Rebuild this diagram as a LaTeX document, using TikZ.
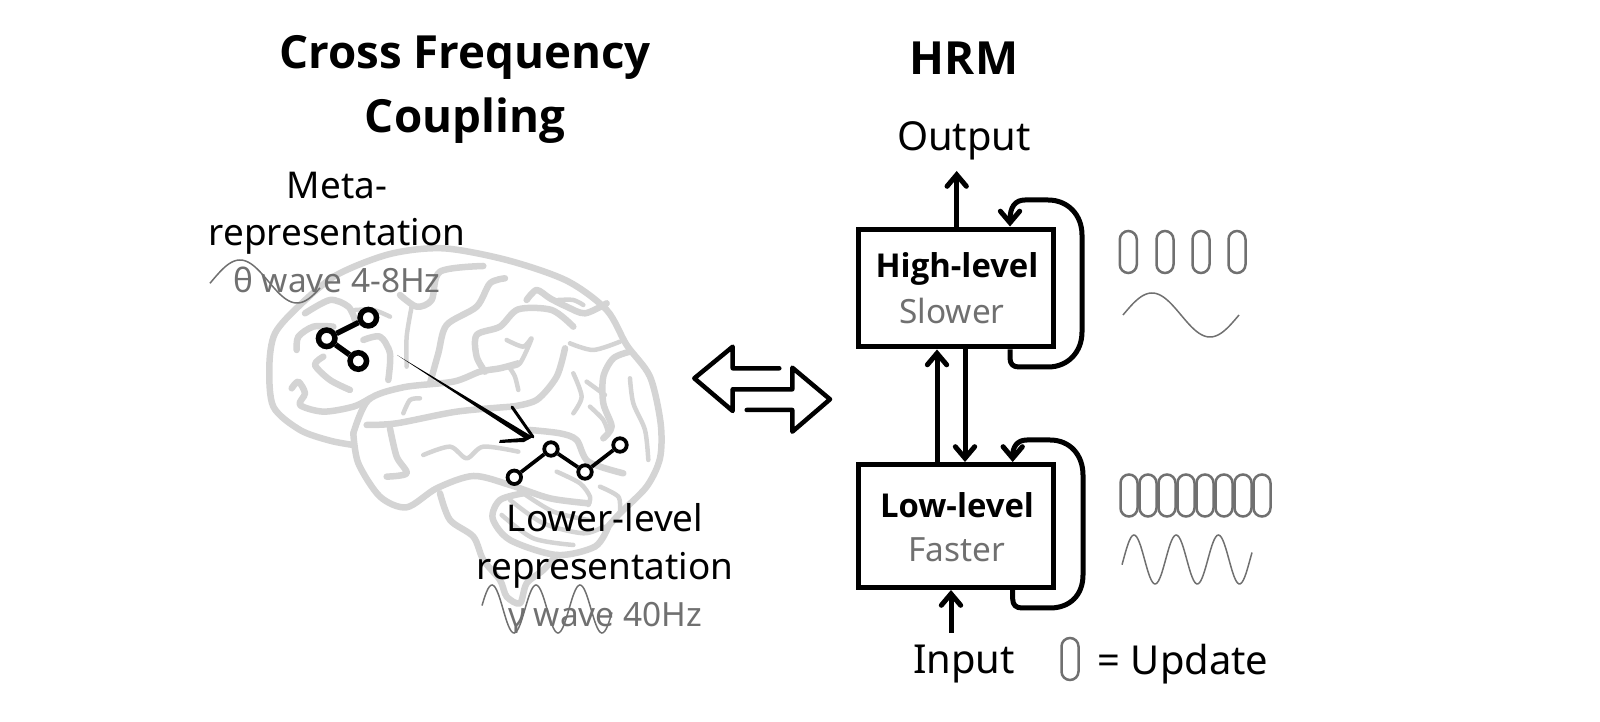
\documentclass[tikz,border=0pt]{standalone}
\usepackage{fontspec}
\setmainfont{Noto Sans}
\newfontfamily\headfont{Open Sans}
\usepackage{tikz}
\usetikzlibrary{positioning,arrows.meta,calc}
\definecolor{brainGray}{HTML}{D4D4D4}
\definecolor{waveGray}{HTML}{707070}
\tikzset{
    titletext/.style={font=\fontsize{26}{36.4}\selectfont\headfont\bfseries,align=center,inner sep=0pt},
    labeltext/.style={font=\fontsize{21}{27}\selectfont,align=center,inner sep=0pt},
    iotext/.style={font=\fontsize{22.7}{27}\selectfont,inner sep=0pt},
    wavetext/.style={font=\fontsize{19}{23}\selectfont,text=waveGray,inner sep=0pt},
    boxhead/.style={font=\fontsize{18.7}{23}\selectfont\headfont\bfseries,inner sep=0pt},
    boxsub/.style={font=\fontsize{19}{23}\selectfont,text=waveGray,inner sep=0pt},
    levelbox/.style={draw,line width=0.1cm,minimum width=3.92cm},
    flowarrow/.style={line width=0.1cm,line join=round,-{Straight Barb[length=6.5pt,width=11pt,line cap=round]}},
    selfloop/.style={flowarrow},
    updatepill/.style={draw=waveGray,line width=0.05cm,rounded corners=0.17cm,minimum width=0.34cm,minimum height=0.84cm,inner sep=0pt},
    wavecurve/.style={draw=waveGray,line width=0.03cm,smooth,samples=90},
    brainline/.style={draw=brainGray,line width=0.13cm,line cap=round,line join=round},
    brainthin/.style={draw=brainGray,line width=0.09cm,line cap=round,line join=round},
    metadot/.style={draw,circle,line width=0.11cm,minimum size=0.33cm,inner sep=0pt},
    lowdot/.style={draw,circle,line width=0.075cm,minimum size=0.27cm,inner sep=0pt},
}
\begin{document}
\begin{tikzpicture}[x=0.02cm,y=-0.02cm]
    \useasboundingbox (0,0) rectangle (1600,722);
    % brain, traced in the 3x crop
    \begin{scope}[shift={(190,150)},x=0.006667cm,y=-0.006667cm]
        \draw[brainline] plot[smooth] coordinates {(490,885) (420,872) (330,840) (250,770) (238,650) (255,550) (330,465) (440,375) (600,312) (760,295) (950,330) (1130,392) (1250,480) (1310,585) (1380,680) (1412,820) (1410,925) (1370,1010) (1290,1090) (1245,1140)};
        \draw[brainline] plot[smooth] coordinates {(345,490) (420,450) (475,470) (495,510)};
        \draw[brainthin] plot[smooth] coordinates {(495,480) (550,480) (600,500)};
        \draw[brainline] plot[smooth] coordinates {(320,600) (325,560) (370,530) (430,530)};
        \draw[brainline] plot[smooth] coordinates {(520,570) (570,560) (600,610) (595,690)};
        \draw[brainline] plot[smooth] coordinates {(400,620) (375,645) (420,690) (480,720)};
        \draw[brainline] plot[smooth] coordinates {(305,715) (325,695) (345,730) (330,765) (400,785) (490,770) (540,745)};
        \draw[brainline] plot[smooth] coordinates {(490,850) (535,750) (640,712) (790,695) (870,665) (930,655) (985,640)};
        \draw[brainthin] plot[smooth] coordinates {(985,720) (975,680) (960,655)};
        \draw[brainline] plot[smooth] coordinates {(720,700) (745,610) (770,525) (860,470) (900,400) (945,385)};
        \draw[brainline] plot[smooth] coordinates {(630,435) (680,470) (725,450) (750,365) (880,348)};
        \draw[brainthin] plot[smooth] coordinates {(665,470) (650,560) (650,650)};
        \draw[brainline] plot[smooth] coordinates {(1150,530) (1085,480) (985,478) (930,530) (860,555) (860,620) (885,665)};
        \draw[brainthin] plot[smooth] coordinates {(950,570) (1000,590) (1025,565) (990,640) (960,650)};
        \draw[brainline] plot[smooth] coordinates {(1010,450) (1040,420) (1080,445) (1130,470) (1185,490) (1250,460)};
        \draw[brainthin] plot[smooth] coordinates {(1105,450) (1150,450) (1180,465)};
        \draw[brainline] plot[smooth] coordinates {(965,770) (1040,750) (1100,680) (1125,595)};
        \draw[brainthin] plot[smooth] coordinates {(1140,580) (1210,600) (1290,575)};
        \draw[brainline] plot[smooth] coordinates {(1320,605) (1270,625) (1240,680) (1240,760) (1265,830) (1240,865)};
        \draw[brainthin] plot[smooth] coordinates {(1320,685) (1330,760) (1365,840) (1375,930)};
        \draw[brainthin] plot[smooth] coordinates {(1150,670) (1175,740) (1150,790)};
        \draw[brainthin] plot[smooth] coordinates {(1190,695) (1245,735)};
        \draw[brainthin] plot[smooth] coordinates {(1200,770) (1240,810) (1255,850)};
        % temporal lobe
        \draw[brainline] plot[smooth] coordinates {(490,850) (505,940) (570,1040) (650,1072) (740,1015) (850,978) (960,1005) (1080,1045) (1195,1060)};
        \draw[brainline] plot[smooth] coordinates {(530,825) (620,820) (800,785) (965,770)};
        \draw[brainthin] plot[smooth] coordinates {(640,790) (660,750) (690,745)};
        \draw[brainline] plot[smooth] coordinates {(600,835) (620,920) (650,970) (590,980)};
        \draw[brainthin] plot[smooth] coordinates {(700,915) (780,890) (830,925) (880,890) (985,905)};
        \draw[brainline] plot[smooth] coordinates {(1020,840) (1110,850) (1160,870) (1195,935) (1300,970)};
        \draw[brainthin] plot[smooth] coordinates {(1100,965) (1170,1000) (1200,1040) (1195,1065)};
        \draw[brainthin] plot[smooth] coordinates {(1230,1010) (1285,1040) (1290,1085)};
        % cerebellum and stem
        \draw[brainline] plot[smooth] coordinates {(1000,1030) (930,1050) (908,1105) (960,1170) (1100,1215) (1215,1190) (1255,1130)};
        \draw[brainthin] plot[smooth] coordinates {(1000,1030) (1090,1085) (1195,1110)};
        \draw[brainthin] plot[smooth] coordinates {(960,1050) (1060,1120) (1180,1150) (1240,1130)};
        \draw[brainthin] plot[smooth] coordinates {(935,1095) (1030,1165) (1150,1185)};
        \draw[brainline] plot[smooth] coordinates {(750,1030) (780,1110) (850,1160) (880,1230) (930,1290) (950,1340) (990,1360) (1010,1300) (1060,1260) (1100,1215)};
    \end{scope}
    % texts left
    \node[titletext] (crosstitle) at (465,89) {Cross Frequency\\Coupling};
    \node[labeltext] (metalabel) at (337,213) {Meta-\\representation};
    \node[wavetext] (thetalabel) at (337,280) {θ wave 4-8Hz};
    \node[labeltext] (lowerlabel) at (605,546) {Lower-level\\representation};
    \node[wavetext] (gammalabel) at (605,618) {γ wave 40Hz};
    % waves left
    \draw[wavecurve,domain=210:320] plot(\x,{281.5-21.5*cos((\x-240)/114*360)});
    \draw[wavecurve,domain=482:612] plot(\x,{609-24*cos((\x-492)/44*360)});
    % graph icons
    \node[metadot] (metaa) at (326.7,338.3) {};
    \node[metadot] (metab) at (368.3,317.7) {};
    \node[metadot] (metac) at (358.3,361) {};
    \draw[line width=0.11cm] (metaa) -- (metab);
    \draw[line width=0.11cm] (metaa) -- (metac);
    \node[lowdot] (lowa) at (514.3,477.3) {};
    \node[lowdot] (lowb) at (551,449) {};
    \node[lowdot] (lowc) at (585,472) {};
    \node[lowdot] (lowd) at (620,445) {};
    \draw[line width=0.075cm] (lowa) -- (lowb);
    \draw[line width=0.075cm] (lowb) -- (lowc);
    \draw[line width=0.075cm] (lowc) -- (lowd);
    % coupling arrow
    \coordinate (couplestart) at (397,355);
    \coordinate (coupletip) at (533,437);
    \fill (couplestart) -- (coupletip) -- (527,440) -- cycle;
    \draw[line width=0.06cm,line cap=round] (512,407) -- (coupletip);
    \fill (coupletip) -- (500,440) -- (499,443) -- (524,442) -- cycle;
    % double arrow
    \draw[line width=0.09cm,line join=round,line cap=round] (779.3,368.3) -- (732.7,368.3) -- (732.7,346.7) -- (694.3,378.3) -- (732.7,411) -- (732.7,389.3) -- (792.3,389.3) -- (792.3,367.7) -- (830,399.3) -- (792.3,431.7) -- (792.3,410) -- (746.7,410);
    % hrm
    \node[titletext] (hrmtitle) at (964,58) {HRM};
    \node[iotext] (outputlabel) at (964,141) {Output};
    \node[levelbox,minimum height=2.36cm] (high) at (956,288) {};
    \node[boxhead] (highname) at (957,269) {High-level};
    \node[boxsub] (highspeed) at (952,311) {Slower};
    \node[levelbox,minimum height=2.46cm] (low) at (956,526) {};
    \node[boxhead] (lowname) at (957,505) {Low-level};
    \node[boxsub] (lowspeed) at (957,550) {Faster};
    \node[iotext] (inputlabel) at (964,664) {Input};
    \coordinate (outtip) at (956.7,171);
    \coordinate (intail) at (951,633);
    \draw[flowarrow] (high.north -| outtip) -- (outtip);
    \draw[flowarrow] (intail) -- (low.south -| intail);
    \coordinate (uplink) at (937,400);
    \coordinate (downlink) at (965,400);
    \draw[flowarrow] (low.north -| uplink) -- (high.south -| uplink);
    \draw[flowarrow] (high.south -| downlink) -- (low.north -| downlink);
    \coordinate (highloop) at (1010,200);
    \draw[selfloop] (high.south -| highloop) -- (1010,358) .. controls (1010,364) and (1013,367) .. (1019,367) -- (1048,367) .. controls (1068,367) and (1082,352) .. (1082,332) -- (1082,235) .. controls (1082,215) and (1068,200) .. (1048,200) -- (1025,200) .. controls (1015,200) and (1010,207) .. (high.north -| highloop);
    \coordinate (lowloop) at (1012.7,440);
    \draw[selfloop] (low.south -| lowloop) -- (1012.7,599) .. controls (1012.7,605) and (1016,608) .. (1022,608) -- (1050,608) .. controls (1070,608) and (1083,595) .. (1083,575) -- (1083,475) .. controls (1083,455) and (1070,440) .. (1050,440) -- (1027,440) .. controls (1017,440) and (1012.7,447) .. (low.north -| lowloop);
    % update pills
    \node[updatepill] (slowa) at (1128.3,252) {};
    \node[updatepill] (slowb) at (1165,252) {};
    \node[updatepill] (slowc) at (1201,252) {};
    \node[updatepill] (slowd) at (1237,252) {};
    \node[updatepill] (fasta) at (1129,495.5) {};
    \node[updatepill] (fastb) at (1148,495.5) {};
    \node[updatepill] (fastc) at (1167,495.5) {};
    \node[updatepill] (fastd) at (1186,495.5) {};
    \node[updatepill] (faste) at (1205,495.5) {};
    \node[updatepill] (fastf) at (1224,495.5) {};
    \node[updatepill] (fastg) at (1243,495.5) {};
    \node[updatepill] (fasth) at (1262,495.5) {};
    \draw[wavecurve,domain=1123:1239] plot(\x,{315-22*cos((\x-1152)/116*360)});
    \draw[wavecurve,domain=1122:1252] plot(\x,{559.5-24.5*cos((\x-1134)/42.2*360)});
    % legend
    \node[updatepill] (legendpill) at (1070,659) {};
    \node[iotext] (legendlabel) at (1183,664) {= Update};
\end{tikzpicture}
\end{document}
